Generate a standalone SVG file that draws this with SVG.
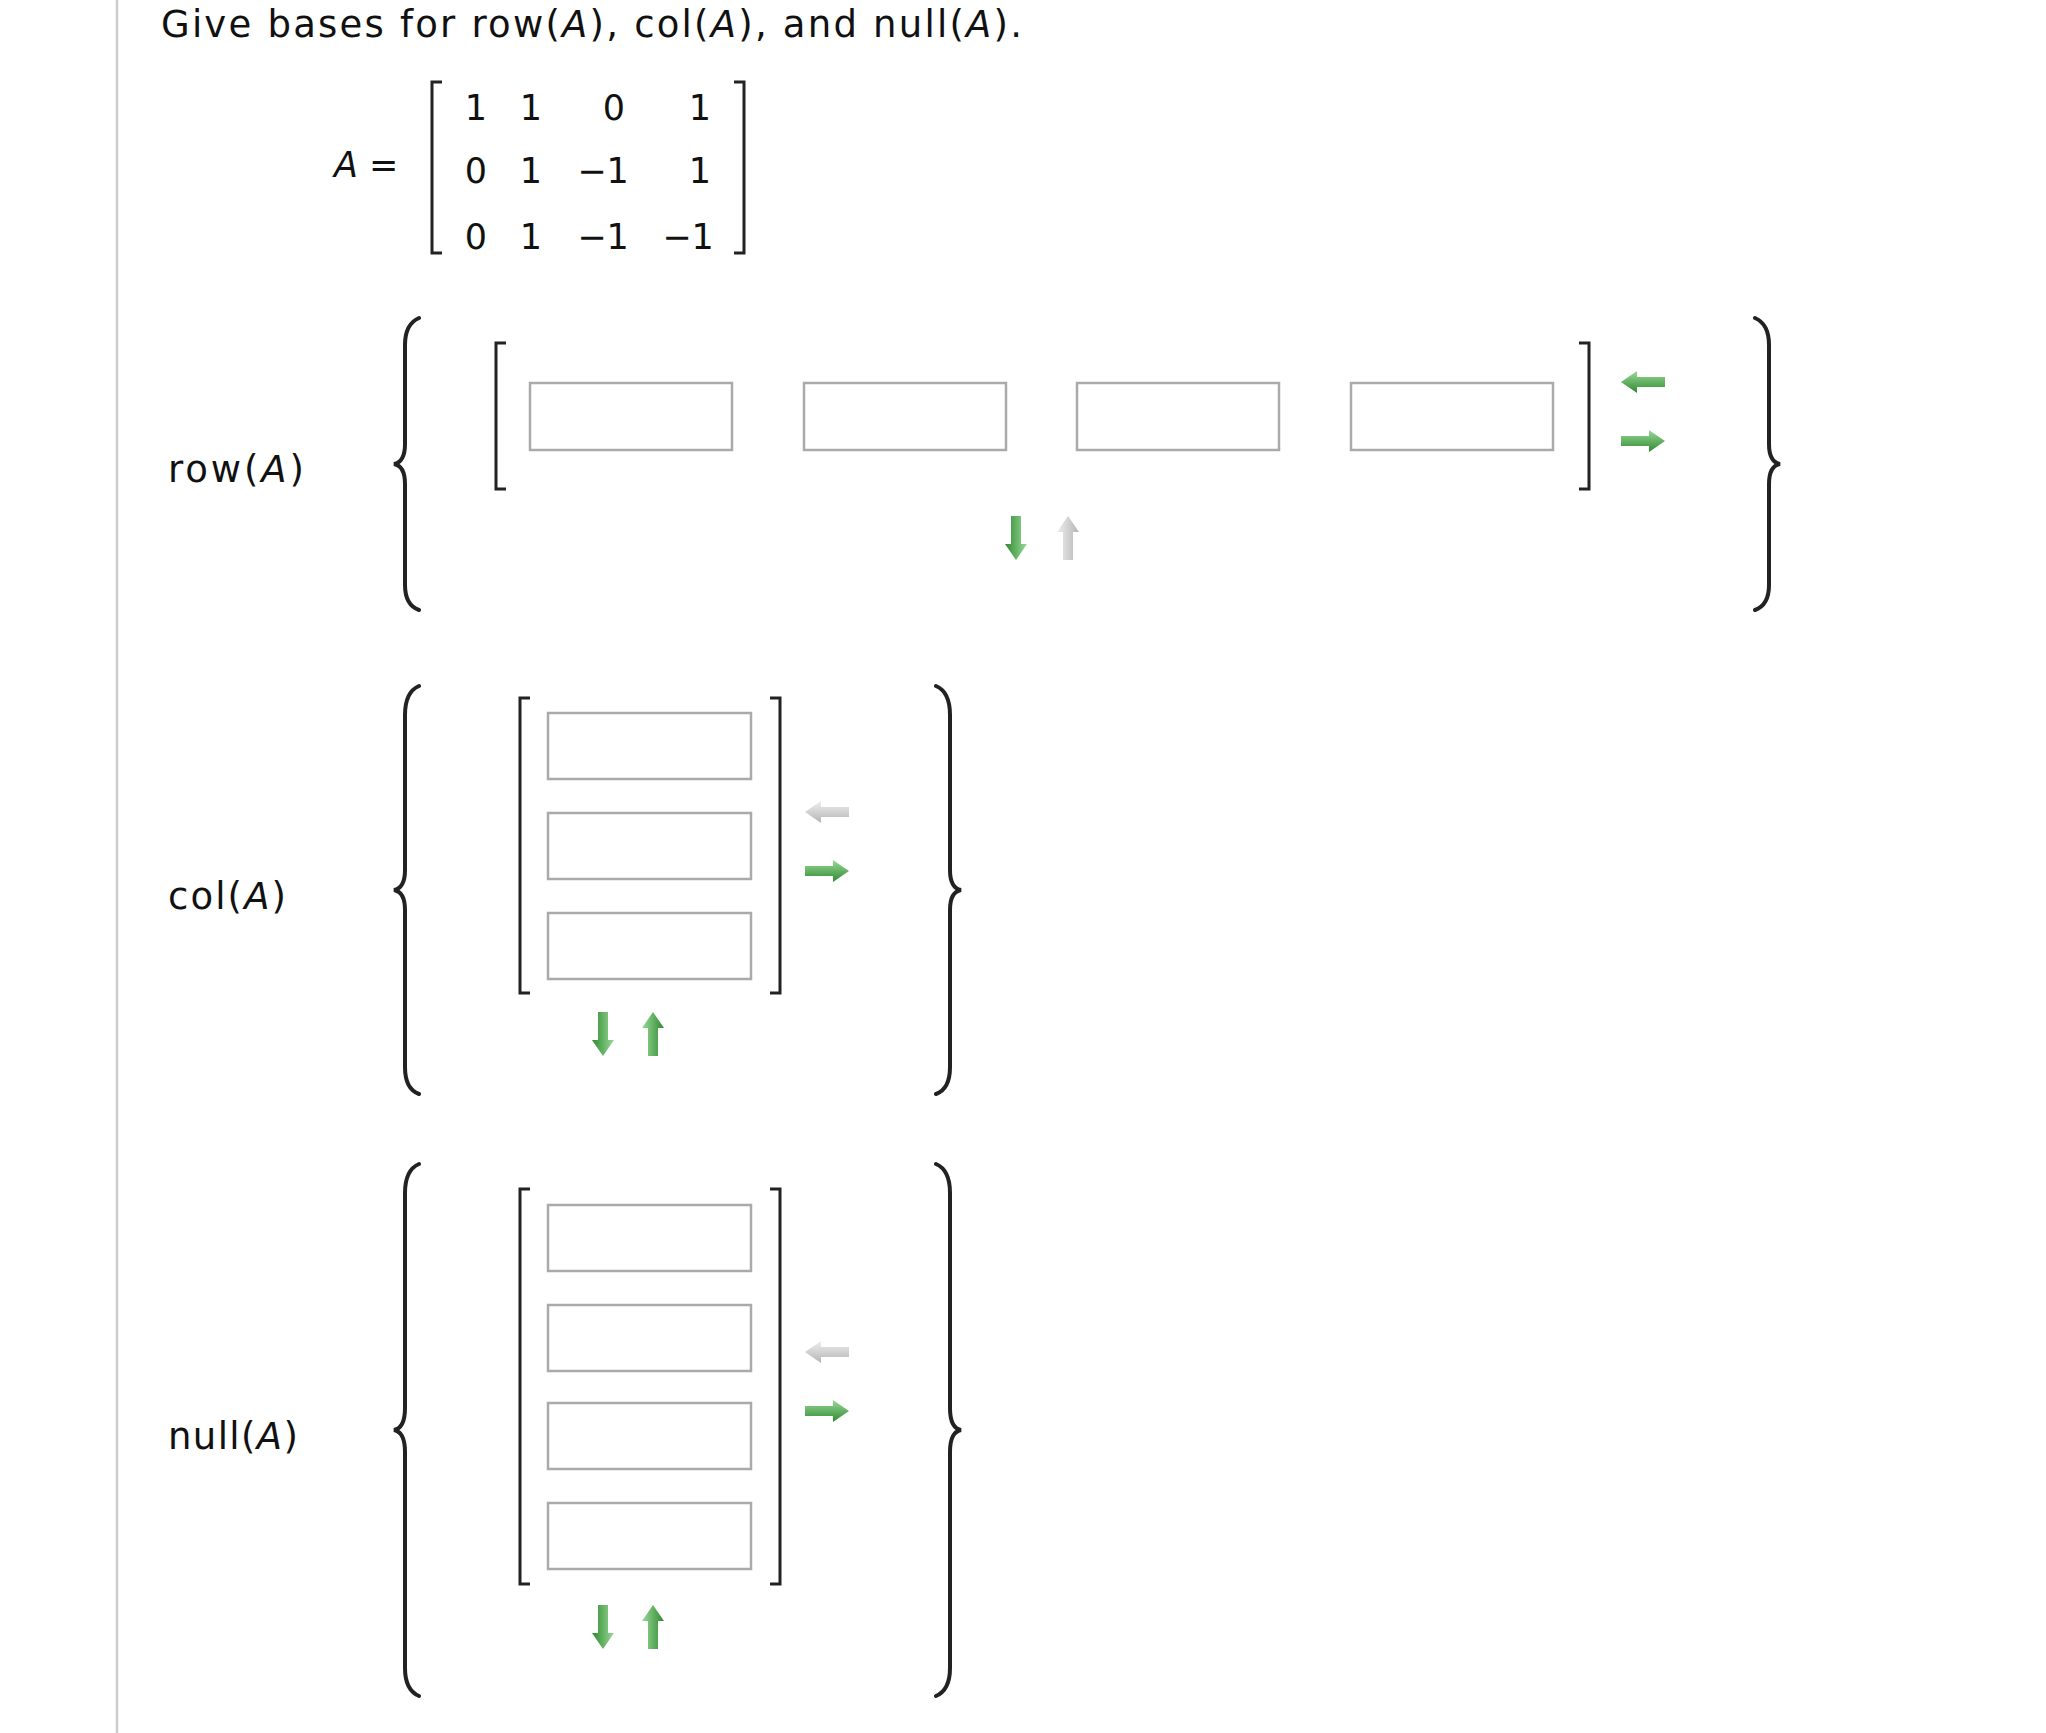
<svg xmlns="http://www.w3.org/2000/svg" width="2046" height="1733" viewBox="0 0 2046 1733">
<style>
text{font-family:"DejaVu Sans",Verdana,sans-serif;fill:#111}
.t{font-size:37px}
.m{font-size:35px}
.i{font-style:italic}
.box{fill:#fff;stroke:#aaa;stroke-width:2.5}
.br{fill:none;stroke:#222;stroke-width:3}
.cb{fill:none;stroke:#222;stroke-width:4;stroke-linecap:round}
</style>
<defs>
<linearGradient id="g" x1="0" y1="0" x2="0" y2="1"><stop offset="0" stop-color="#9ad99a"/><stop offset="1" stop-color="#2f8a2f"/></linearGradient>
<linearGradient id="s" x1="0" y1="0" x2="0" y2="1"><stop offset="0" stop-color="#eee"/><stop offset="1" stop-color="#b5b5b5"/></linearGradient>
<path id="ar" d="M-22,-5 L6,-5 L6,-11 L22,0 L6,11 L6,5 L-22,5 Z"/>
</defs>
<rect width="2046" height="1733" fill="#fff"/>
<line x1="117" y1="0" x2="117" y2="1733" stroke="#ccc" stroke-width="2.5"/>
<text class="t" x="161" y="37" textLength="861">Give bases for row(<tspan class="i">A</tspan>), col(<tspan class="i">A</tspan>), and null(<tspan class="i">A</tspan>).</text>
<g id="matrix">
<text class="m" x="334" y="177"><tspan class="i">A</tspan> =</text>
<path class="br" d="M442,82 H432 V253 H442 M734,82 H744 V253 H734"/>
<text class="m" x="476" y="120" text-anchor="middle">1</text><text class="m" x="531" y="120" text-anchor="middle">1</text><text class="m" x="614" y="120" text-anchor="middle">0</text><text class="m" x="700" y="120" text-anchor="middle">1</text>
<text class="m" x="476" y="183" text-anchor="middle">0</text><text class="m" x="531" y="183" text-anchor="middle">1</text><text class="m" x="603" y="183" text-anchor="middle">−1</text><text class="m" x="700" y="183" text-anchor="middle">1</text>
<text class="m" x="476" y="249" text-anchor="middle">0</text><text class="m" x="531" y="249" text-anchor="middle">1</text><text class="m" x="603" y="249" text-anchor="middle">−1</text><text class="m" x="688" y="249" text-anchor="middle">−1</text>
</g>
<g id="row">
<text class="t" x="168" y="482" textLength="136">row(<tspan class="i">A</tspan>)</text>
<path class="cb" d="M419,318 Q405,324 405,345 L405,444 Q405,462 394,464 Q405,466 405,484 L405,585 Q405,605 419,610"/>
<path class="cb" d="M1755,318 Q1769,324 1769,345 L1769,444 Q1769,462 1780,464 Q1769,466 1769,484 L1769,585 Q1769,605 1755,610"/>
<path class="br" d="M506,343 H496 V489 H506 M1579,343 H1589 V489 H1579"/>
<rect class="box" x="530" y="383" width="202" height="67"/>
<rect class="box" x="804" y="383" width="202" height="67"/>
<rect class="box" x="1077" y="383" width="202" height="67"/>
<rect class="box" x="1351" y="383" width="202" height="67"/>
<use href="#ar" fill="url(#g)" transform="translate(1643,382) scale(-1,1)"/>
<use href="#ar" fill="url(#g)" transform="translate(1643,441)"/>
<use href="#ar" fill="url(#g)" transform="translate(1016,538) rotate(90)"/>
<use href="#ar" fill="url(#s)" transform="translate(1068,538) rotate(-90)"/>
</g>
<g id="col">
<text class="t" x="168" y="909" textLength="118">col(<tspan class="i">A</tspan>)</text>
<path class="cb" d="M419,686 Q405,692 405,715 L405,870 Q405,888 394,890 Q405,892 405,910 L405,1067 Q405,1089 419,1094"/>
<path class="cb" d="M936,686 Q950,692 950,715 L950,870 Q950,888 961,890 Q950,892 950,910 L950,1067 Q950,1089 936,1094"/>
<path class="br" d="M530,698 H520 V993 H530 M770,698 H780 V993 H770"/>
<rect class="box" x="548" y="713" width="203" height="66"/>
<rect class="box" x="548" y="813" width="203" height="66"/>
<rect class="box" x="548" y="913" width="203" height="66"/>
<use href="#ar" fill="url(#s)" transform="translate(827,812) scale(-1,1)"/>
<use href="#ar" fill="url(#g)" transform="translate(827,871)"/>
<use href="#ar" fill="url(#g)" transform="translate(603,1034) rotate(90)"/>
<use href="#ar" fill="url(#g)" transform="translate(653,1034) rotate(-90)"/>
</g>
<g id="null">
<text class="t" x="168" y="1449" textLength="130">null(<tspan class="i">A</tspan>)</text>
<path class="cb" d="M419,1164 Q405,1170 405,1193 L405,1408 Q405,1428 394,1430 Q405,1432 405,1452 L405,1668 Q405,1690 419,1696"/>
<path class="cb" d="M936,1164 Q950,1170 950,1193 L950,1408 Q950,1428 961,1430 Q950,1432 950,1452 L950,1668 Q950,1690 936,1696"/>
<path class="br" d="M530,1189 H520 V1584 H530 M770,1189 H780 V1584 H770"/>
<rect class="box" x="548" y="1205" width="203" height="66"/>
<rect class="box" x="548" y="1305" width="203" height="66"/>
<rect class="box" x="548" y="1403" width="203" height="66"/>
<rect class="box" x="548" y="1503" width="203" height="66"/>
<use href="#ar" fill="url(#s)" transform="translate(827,1352) scale(-1,1)"/>
<use href="#ar" fill="url(#g)" transform="translate(827,1411)"/>
<use href="#ar" fill="url(#g)" transform="translate(603,1627) rotate(90)"/>
<use href="#ar" fill="url(#g)" transform="translate(653,1627) rotate(-90)"/>
</g>
<g id="connectors"/>
</svg>
